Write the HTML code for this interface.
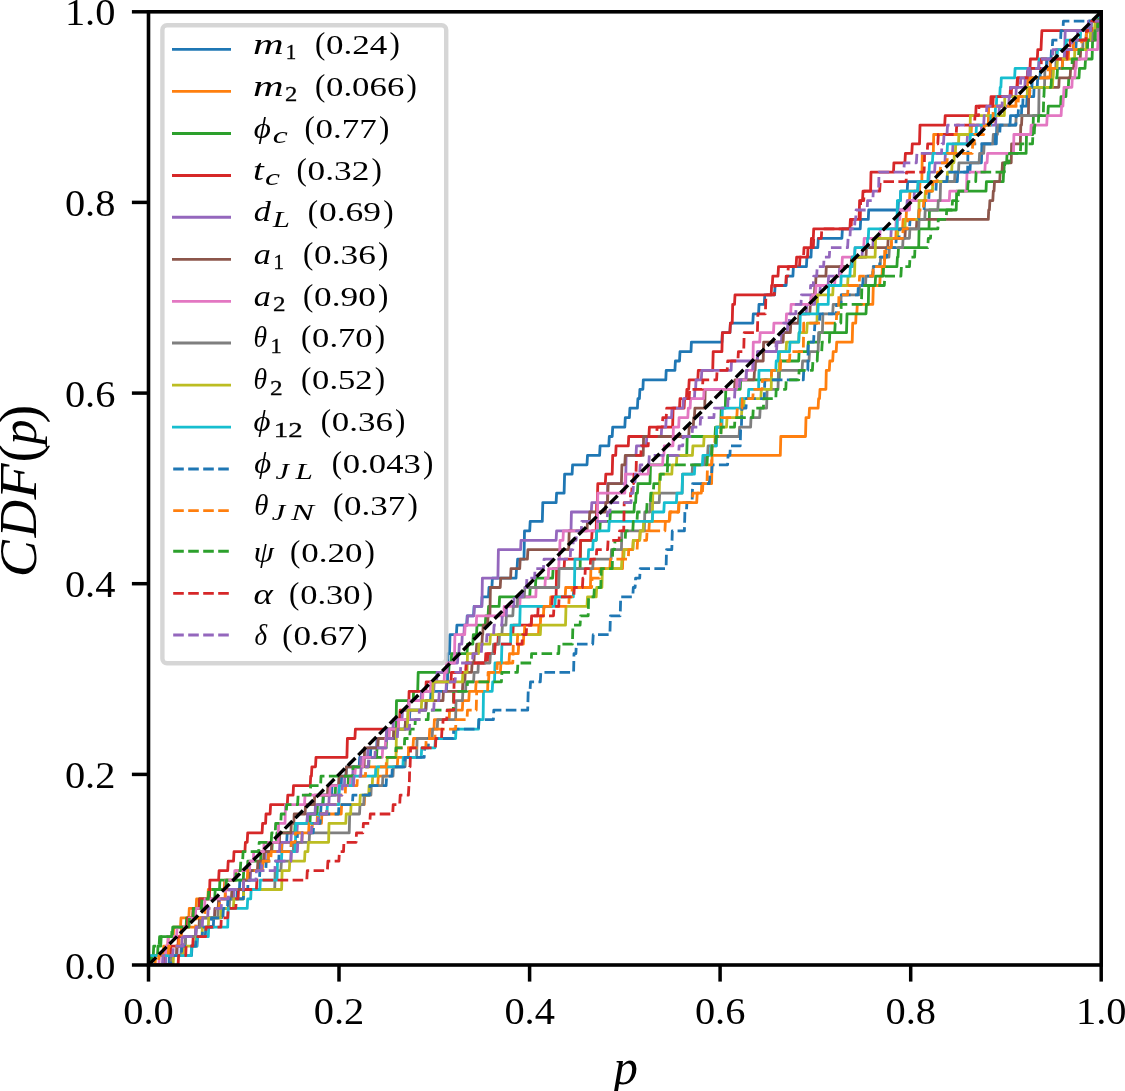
<!DOCTYPE html>
<html lang="en"><head><meta charset="utf-8"><title>P-P plot</title>
<style>html,body{margin:0;padding:0;background:#fff}svg{display:block}text{font-family:"Liberation Serif", serif;fill:#000}</style>
</head><body>
<svg width="1125" height="1091" viewBox="0 0 1125 1091">
<rect x="0" y="0" width="1125" height="1091" fill="#fff"/>
<defs><clipPath id="ax"><rect x="148.5" y="11.8" width="952.7" height="953.2"/></clipPath></defs>
<g clip-path="url(#ax)" fill="none" stroke-linejoin="round" stroke-width="2.8">
<path d="M148.5 965.0 L169.0 965.0 L169.5 955.6 L191.5 955.6 L192.0 946.1 L197.0 946.1 L197.5 936.7 L205.3 936.7 L205.8 927.2 L213.3 927.2 L213.7 917.8 L221.7 917.8 L222.2 908.4 L228.2 908.4 L228.7 898.9 L236.9 898.9 L237.3 889.5 L239.4 889.5 L239.9 880.1 L249.5 880.1 L250.0 870.6 L259.9 870.6 L260.3 861.2 L267.8 861.2 L268.3 851.7 L281.6 851.7 L282.1 842.3 L286.7 842.3 L287.2 832.9 L295.3 832.9 L295.8 823.4 L307.0 823.4 L307.5 814.0 L320.6 814.0 L321.1 804.6 L322.9 804.6 L323.4 795.1 L331.6 795.1 L332.0 785.7 L341.2 785.7 L341.6 776.2 L345.9 776.2 L346.4 766.8 L359.2 766.8 L359.7 757.4 L370.4 757.4 L370.8 747.9 L376.7 747.9 L377.1 738.5 L395.6 738.5 L396.1 729.1 L405.1 729.1 L405.6 719.6 L409.4 719.6 L409.9 710.2 L425.8 710.2 L426.2 700.7 L430.5 700.7 L431.0 691.3 L446.4 691.3 L446.9 681.9 L447.5 681.9 L448.0 653.6 L449.5 653.6 L450.0 634.7 L456.4 634.7 L456.9 625.2 L466.7 625.2 L467.2 615.8 L473.6 615.8 L474.1 606.4 L481.6 606.4 L482.1 596.9 L488.5 596.9 L489.0 587.5 L491.9 587.5 L492.4 578.1 L516.0 578.1 L516.5 568.6 L517.1 568.6 L517.6 559.2 L524.0 559.2 L524.5 530.9 L529.7 530.9 L530.2 521.4 L542.3 521.4 L542.8 502.6 L556.1 502.6 L556.6 493.1 L564.1 493.1 L564.6 474.2 L572.1 474.2 L572.6 464.8 L587.0 464.8 L587.5 455.4 L599.6 455.4 L600.1 445.9 L608.8 445.9 L609.3 436.5 L612.2 436.5 L612.7 427.1 L624.8 427.1 L625.3 417.6 L629.4 417.6 L629.9 408.2 L637.4 408.2 L637.9 398.7 L639.4 398.7 L639.9 389.3 L642.9 389.3 L643.3 379.9 L665.8 379.9 L666.2 370.4 L674.9 370.4 L675.4 361.0 L679.5 361.0 L680.0 351.6 L691.0 351.6 L691.4 342.1 L721.9 342.1 L722.4 332.7 L729.9 332.7 L730.4 323.2 L752.8 323.2 L753.3 313.8 L758.6 313.8 L759.0 304.4 L764.3 304.4 L764.8 294.9 L774.6 294.9 L775.1 285.5 L786.1 285.5 L786.5 276.1 L792.9 276.1 L793.4 266.6 L806.4 266.6 L806.9 257.2 L811.0 257.2 L811.4 247.7 L817.8 247.7 L818.3 238.3 L841.9 238.3 L842.4 228.9 L860.2 228.9 L860.7 219.4 L868.3 219.4 L868.7 210.0 L898.0 210.0 L898.5 200.6 L900.3 200.6 L900.8 191.1 L907.2 191.1 L907.7 181.7 L957.3 181.7 L957.8 172.2 L969.9 172.2 L970.4 162.8 L981.4 162.8 L981.9 143.9 L996.3 143.9 L996.8 125.1 L1010.0 125.1 L1010.5 115.6 L1021.4 115.6 L1021.8 106.2 L1026.6 106.2 L1027.1 96.7 L1033.7 96.7 L1034.1 87.3 L1037.2 87.3 L1037.7 77.9 L1051.3 77.9 L1051.7 68.4 L1062.2 68.4 L1062.7 59.0 L1065.0 59.0 L1065.5 49.6 L1075.8 49.6 L1076.3 40.1 L1086.0 40.1 L1086.5 30.7 L1088.5 30.7 L1089.0 21.2 L1100.3 21.2 L1100.8 11.8" stroke="#1f77b4"/>
<path d="M148.5 965.0 L155.1 965.0 L155.6 955.6 L163.3 955.6 L163.7 946.1 L167.8 946.1 L168.3 936.7 L173.2 936.7 L173.7 927.2 L180.5 927.2 L181.0 917.8 L188.8 917.8 L189.3 908.4 L196.1 908.4 L196.6 898.9 L207.8 898.9 L208.3 889.5 L224.2 889.5 L224.7 880.1 L235.5 880.1 L236.0 870.6 L262.3 870.6 L262.8 861.2 L268.2 861.2 L268.7 851.7 L281.3 851.7 L281.8 842.3 L301.8 842.3 L302.3 832.9 L311.9 832.9 L312.4 823.4 L321.4 823.4 L321.9 814.0 L341.2 814.0 L341.6 804.6 L364.2 804.6 L364.7 795.1 L369.3 795.1 L369.8 785.7 L377.8 785.7 L378.3 776.2 L386.5 776.2 L386.9 766.8 L397.3 766.8 L397.8 757.4 L408.2 757.4 L408.7 747.9 L413.0 747.9 L413.5 738.5 L429.2 738.5 L429.7 729.1 L434.0 729.1 L434.4 719.6 L449.1 719.6 L449.6 710.2 L462.3 710.2 L462.8 700.7 L468.8 700.7 L469.3 691.3 L475.6 691.3 L476.1 681.9 L488.5 681.9 L489.0 672.4 L500.4 672.4 L500.9 663.0 L509.0 663.0 L509.5 653.6 L518.2 653.6 L518.7 644.1 L523.3 644.1 L523.8 634.7 L538.5 634.7 L538.9 625.2 L540.3 625.2 L540.8 615.8 L543.4 615.8 L543.9 606.4 L550.3 606.4 L550.8 596.9 L565.2 596.9 L565.7 587.5 L590.4 587.5 L590.9 568.6 L622.5 568.6 L623.0 549.7 L632.8 549.7 L633.3 540.3 L639.7 540.3 L640.2 530.9 L648.9 530.9 L649.4 521.4 L669.2 521.4 L669.7 512.0 L678.4 512.0 L678.8 502.6 L696.7 502.6 L697.2 493.1 L701.3 493.1 L701.8 483.7 L711.6 483.7 L712.1 455.4 L780.3 455.4 L780.8 436.5 L805.5 436.5 L806.0 417.6 L809.0 417.6 L809.5 408.2 L818.1 408.2 L818.6 398.7 L819.5 398.7 L820.0 389.3 L825.9 389.3 L826.3 370.4 L829.3 370.4 L829.8 361.0 L832.7 361.0 L833.2 351.6 L836.2 351.6 L836.7 342.1 L852.2 342.1 L852.7 323.2 L855.7 323.2 L856.1 313.8 L856.8 313.8 L857.3 304.4 L872.8 304.4 L873.3 285.5 L879.7 285.5 L880.2 276.1 L882.0 276.1 L882.4 266.6 L884.3 266.6 L884.8 257.2 L885.7 257.2 L886.2 247.7 L891.2 247.7 L891.6 238.3 L895.8 238.3 L896.2 228.9 L902.6 228.9 L903.1 219.4 L906.1 219.4 L906.5 210.0 L907.4 210.0 L907.9 200.6 L909.5 200.6 L910.0 191.1 L919.5 191.1 L920.0 181.7 L921.8 181.7 L922.3 153.4 L933.3 153.4 L933.7 134.5 L971.1 134.5 L971.5 125.1 L988.3 125.1 L988.7 106.2 L1015.8 106.2 L1016.2 96.7 L1027.2 96.7 L1027.7 77.9 L1050.1 77.9 L1050.6 59.0 L1067.0 59.0 L1067.5 49.6 L1073.2 49.6 L1073.7 40.1 L1086.0 40.1 L1086.5 30.7 L1091.0 30.7 L1091.5 21.2 L1100.3 21.2 L1100.8 11.8" stroke="#ff7f0e"/>
<path d="M148.5 965.0 L151.7 965.0 L152.2 955.6 L157.5 955.6 L158.0 946.1 L160.7 946.1 L161.2 936.7 L172.3 936.7 L172.7 927.2 L186.1 927.2 L186.6 917.8 L193.4 917.8 L193.9 908.4 L199.0 908.4 L199.5 898.9 L214.7 898.9 L215.2 889.5 L219.5 889.5 L219.9 880.1 L243.3 880.1 L243.7 870.6 L247.3 870.6 L247.8 861.2 L260.6 861.2 L261.0 851.7 L271.8 851.7 L272.3 842.3 L276.4 842.3 L276.9 832.9 L294.7 832.9 L295.2 823.4 L309.9 823.4 L310.4 814.0 L317.0 814.0 L317.5 804.6 L322.8 804.6 L323.3 795.1 L335.2 795.1 L335.6 785.7 L348.0 785.7 L348.5 776.2 L353.6 776.2 L354.1 766.8 L362.9 766.8 L363.3 757.4 L376.5 757.4 L377.0 747.9 L386.1 747.9 L386.6 738.5 L387.7 738.5 L388.2 729.1 L396.0 729.1 L396.5 700.7 L413.2 700.7 L413.6 691.3 L417.7 691.3 L418.2 672.4 L448.7 672.4 L449.2 663.0 L451.1 663.0 L451.6 653.6 L467.0 653.6 L467.5 644.1 L472.8 644.1 L473.3 634.7 L476.5 634.7 L477.0 625.2 L485.3 625.2 L485.8 615.8 L488.1 615.8 L488.6 606.4 L499.1 606.4 L499.6 596.9 L529.7 596.9 L530.2 587.5 L535.4 587.5 L535.9 578.1 L552.6 578.1 L553.1 568.6 L580.1 568.6 L580.6 540.3 L596.2 540.3 L596.7 530.9 L599.8 530.9 L600.3 521.4 L609.9 521.4 L610.4 512.0 L634.0 512.0 L634.5 502.6 L635.6 502.6 L636.1 493.1 L637.4 493.1 L637.9 483.7 L650.0 483.7 L650.5 464.8 L667.2 464.8 L667.7 455.4 L686.7 455.4 L687.2 436.5 L715.0 436.5 L715.5 427.1 L720.8 427.1 L721.2 408.2 L725.3 408.2 L725.8 389.3 L740.2 389.3 L740.7 379.9 L779.2 379.9 L779.7 361.0 L798.7 361.0 L799.1 351.6 L807.8 351.6 L808.3 342.1 L819.0 342.1 L819.5 332.7 L846.5 332.7 L847.0 313.8 L866.0 313.8 L866.4 304.4 L868.3 304.4 L868.7 285.5 L875.1 285.5 L875.6 276.1 L883.2 276.1 L883.6 266.6 L896.9 266.6 L897.4 257.2 L898.0 257.2 L898.5 247.7 L918.7 247.7 L919.1 228.9 L929.0 228.9 L929.5 210.0 L956.2 210.0 L956.7 191.1 L986.0 191.1 L986.4 181.7 L1003.2 181.7 L1003.6 172.2 L1003.9 172.2 L1004.3 162.8 L1006.6 162.8 L1007.1 153.4 L1026.1 153.4 L1026.5 134.5 L1032.9 134.5 L1033.4 115.6 L1047.8 115.6 L1048.3 106.2 L1060.6 106.2 L1061.0 96.7 L1065.9 96.7 L1066.4 87.3 L1068.3 87.3 L1068.8 77.9 L1079.0 77.9 L1079.5 68.4 L1085.0 68.4 L1085.5 59.0 L1092.1 59.0 L1092.6 40.1 L1097.5 40.1 L1098.0 21.2 L1098.7 21.2 L1099.2 11.8 L1100.8 11.8" stroke="#2ca02c"/>
<path d="M148.5 965.0 L163.5 965.0 L164.0 955.6 L170.3 955.6 L170.8 946.1 L178.0 946.1 L178.4 936.7 L181.0 936.7 L181.4 927.2 L187.3 927.2 L187.8 917.8 L192.6 917.8 L193.1 908.4 L199.2 908.4 L199.6 898.9 L209.4 898.9 L209.9 880.1 L218.6 880.1 L219.1 870.6 L227.7 870.6 L228.2 861.2 L233.5 861.2 L234.0 851.7 L244.9 851.7 L245.4 842.3 L247.2 842.3 L247.7 832.9 L262.1 832.9 L262.6 823.4 L265.6 823.4 L266.0 814.0 L270.1 814.0 L270.6 804.6 L287.3 804.6 L287.8 795.1 L293.1 795.1 L293.5 785.7 L310.2 785.7 L310.7 776.2 L311.4 776.2 L311.9 766.8 L315.5 766.8 L316.0 757.4 L346.9 757.4 L347.4 738.5 L354.9 738.5 L355.4 729.1 L398.3 729.1 L398.7 719.6 L399.6 719.6 L400.1 710.2 L408.6 710.2 L409.1 691.3 L425.8 691.3 L426.2 681.9 L451.0 681.9 L451.4 672.4 L465.9 672.4 L466.3 663.0 L485.3 663.0 L485.8 653.6 L494.5 653.6 L495.0 644.1 L497.9 644.1 L498.4 634.7 L512.8 634.7 L513.3 625.2 L531.2 625.2 L531.6 615.8 L537.7 615.8 L538.2 606.4 L551.8 606.4 L552.3 596.9 L556.1 596.9 L556.6 568.6 L564.1 568.6 L564.6 559.2 L580.1 559.2 L580.6 540.3 L591.6 540.3 L592.1 530.9 L596.2 530.9 L596.7 502.6 L597.3 502.6 L597.8 483.7 L605.3 483.7 L605.8 474.2 L612.2 474.2 L612.7 455.4 L615.7 455.4 L616.1 445.9 L628.3 445.9 L628.7 436.5 L648.9 436.5 L649.4 427.1 L672.6 427.1 L673.1 408.2 L684.1 408.2 L684.6 398.7 L686.4 398.7 L686.9 389.3 L688.7 389.3 L689.2 379.9 L697.8 379.9 L698.3 370.4 L712.7 370.4 L713.2 351.6 L721.9 351.6 L722.4 332.7 L729.9 332.7 L730.4 323.2 L732.2 323.2 L732.7 304.4 L734.5 304.4 L735.0 294.9 L771.2 294.9 L771.6 285.5 L772.3 285.5 L772.8 276.1 L778.0 276.1 L778.5 266.6 L796.1 266.6 L796.6 257.2 L807.5 257.2 L808.0 247.7 L811.0 247.7 L811.4 238.3 L813.3 238.3 L813.7 228.9 L849.9 228.9 L850.4 219.4 L859.1 219.4 L859.6 200.6 L862.5 200.6 L863.0 191.1 L870.6 191.1 L871.0 172.2 L893.5 172.2 L893.9 162.8 L904.9 162.8 L905.4 153.4 L911.8 153.4 L912.3 143.9 L919.5 143.9 L920.0 125.1 L944.7 125.1 L945.2 115.6 L975.7 115.6 L976.1 106.2 L990.6 106.2 L991.0 96.7 L1010.0 96.7 L1010.5 87.3 L1016.9 87.3 L1017.4 77.9 L1028.4 77.9 L1028.8 68.4 L1030.0 68.4 L1030.4 59.0 L1037.3 59.0 L1037.8 49.6 L1041.0 49.6 L1041.4 40.1 L1041.9 30.7 L1095.1 30.7 L1095.6 21.2 L1098.1 21.2 L1098.6 11.8 L1100.8 11.8" stroke="#d62728"/>
<path d="M148.5 965.0 L165.5 965.0 L166.0 955.6 L177.0 955.6 L177.4 946.1 L181.6 946.1 L182.1 936.7 L195.6 936.7 L196.1 927.2 L201.7 927.2 L202.2 917.8 L214.5 917.8 L215.0 908.4 L219.1 908.4 L219.6 898.9 L233.5 898.9 L234.0 889.5 L243.3 889.5 L243.7 880.1 L250.2 880.1 L250.7 870.6 L261.5 870.6 L261.9 861.2 L264.8 861.2 L265.3 851.7 L279.5 851.7 L279.9 842.3 L290.9 842.3 L291.3 832.9 L296.9 832.9 L297.4 823.4 L307.1 823.4 L307.6 814.0 L315.0 814.0 L315.5 804.6 L328.8 804.6 L329.3 795.1 L338.5 795.1 L339.0 785.7 L344.4 785.7 L344.8 776.2 L352.7 776.2 L353.2 766.8 L360.4 766.8 L360.9 757.4 L367.5 757.4 L368.0 747.9 L377.1 747.9 L377.5 738.5 L386.1 738.5 L386.6 729.1 L392.9 729.1 L393.4 719.6 L402.0 719.6 L402.5 710.2 L408.5 710.2 L409.0 700.7 L421.0 700.7 L421.5 691.3 L433.7 691.3 L434.2 681.9 L436.6 681.9 L437.1 672.4 L447.1 672.4 L447.6 663.0 L457.5 663.0 L458.0 653.6 L458.9 653.6 L459.3 644.1 L461.8 644.1 L462.3 634.7 L463.9 634.7 L464.4 625.2 L467.0 625.2 L467.5 615.8 L473.9 615.8 L474.4 606.4 L481.9 606.4 L482.4 578.1 L497.9 578.1 L498.4 549.7 L520.6 549.7 L521.0 540.3 L556.1 540.3 L556.6 530.9 L571.0 530.9 L571.4 512.0 L591.3 512.0 L591.8 502.6 L607.3 502.6 L607.8 483.7 L625.7 483.7 L626.1 455.4 L636.0 455.4 L636.5 445.9 L646.3 445.9 L646.8 436.5 L661.2 436.5 L661.7 427.1 L665.8 427.1 L666.2 417.6 L671.5 417.6 L672.0 408.2 L683.0 408.2 L683.4 398.7 L694.4 398.7 L694.9 389.3 L695.6 389.3 L696.0 379.9 L701.3 379.9 L701.8 370.4 L731.1 370.4 L731.5 361.0 L757.4 361.0 L757.8 351.6 L776.5 351.6 L777.0 342.1 L781.4 342.1 L781.9 332.7 L787.3 332.7 L787.8 323.2 L799.3 323.2 L799.8 313.8 L806.2 313.8 L806.7 304.4 L814.6 304.4 L815.1 294.9 L819.8 294.9 L820.3 285.5 L828.1 285.5 L828.6 276.1 L839.2 276.1 L839.7 266.6 L852.7 266.6 L853.2 257.2 L862.0 257.2 L862.5 247.7 L872.8 247.7 L873.3 238.3 L890.8 238.3 L891.3 228.9 L896.9 228.9 L897.4 219.4 L899.0 219.4 L899.5 210.0 L906.7 210.0 L907.2 200.6 L913.9 200.6 L914.4 191.1 L918.0 191.1 L918.5 181.7 L928.9 181.7 L929.4 172.2 L934.6 172.2 L935.1 162.8 L944.9 162.8 L945.4 153.4 L952.5 153.4 L953.0 143.9 L967.0 143.9 L967.5 134.5 L981.2 134.5 L981.7 125.1 L995.6 125.1 L996.0 115.6 L998.9 115.6 L999.4 106.2 L1008.7 106.2 L1009.2 96.7 L1015.9 96.7 L1016.3 87.3 L1024.8 87.3 L1025.3 77.9 L1030.2 77.9 L1030.6 68.4 L1046.8 68.4 L1047.3 59.0 L1064.1 59.0 L1064.6 49.6 L1064.7 49.6 L1065.2 30.7 L1088.0 30.7 L1088.4 21.2 L1098.7 21.2 L1099.2 11.8 L1100.8 11.8" stroke="#9467bd"/>
<path d="M148.5 965.0 L172.3 965.0 L172.7 955.6 L176.4 955.6 L176.8 946.1 L184.9 946.1 L185.4 936.7 L195.6 936.7 L196.1 927.2 L199.0 927.2 L199.5 917.8 L214.6 917.8 L215.1 908.4 L218.2 908.4 L218.6 898.9 L231.4 898.9 L231.9 889.5 L243.3 889.5 L243.7 880.1 L248.8 880.1 L249.3 870.6 L257.4 870.6 L257.9 861.2 L263.6 861.2 L264.0 851.7 L271.3 851.7 L271.8 842.3 L279.4 842.3 L279.8 832.9 L290.9 832.9 L291.3 823.4 L293.8 823.4 L294.2 814.0 L305.1 814.0 L305.5 804.6 L314.3 804.6 L314.7 795.1 L327.4 795.1 L327.9 785.7 L338.5 785.7 L339.0 776.2 L346.0 776.2 L346.4 766.8 L364.1 766.8 L364.6 747.9 L377.8 747.9 L378.3 738.5 L393.3 738.5 L393.7 729.1 L405.1 729.1 L405.6 719.6 L408.0 719.6 L408.4 710.2 L425.8 710.2 L426.2 700.7 L443.0 700.7 L443.4 691.3 L462.4 691.3 L462.9 681.9 L464.8 681.9 L465.2 672.4 L471.6 672.4 L472.1 663.0 L473.9 663.0 L474.3 653.6 L476.2 653.6 L476.7 644.1 L481.9 644.1 L482.4 634.7 L482.7 634.7 L483.2 625.2 L487.6 625.2 L488.1 615.8 L489.9 615.8 L490.4 587.5 L500.2 587.5 L500.7 578.1 L510.6 578.1 L511.0 568.6 L519.7 568.6 L520.2 559.2 L527.4 559.2 L527.9 549.7 L568.7 549.7 L569.2 530.9 L587.0 530.9 L587.5 521.4 L589.3 521.4 L589.8 512.0 L605.3 512.0 L605.8 502.6 L607.6 502.6 L608.1 483.7 L621.4 483.7 L621.9 464.8 L624.8 464.8 L625.3 455.4 L643.2 455.4 L643.6 436.5 L688.7 436.5 L689.2 427.1 L693.3 427.1 L693.7 417.6 L694.4 417.6 L694.9 408.2 L704.7 408.2 L705.2 389.3 L734.5 389.3 L735.0 379.9 L754.0 379.9 L754.5 370.4 L755.1 370.4 L755.6 361.0 L763.2 361.0 L763.6 342.1 L783.1 342.1 L783.5 332.7 L790.3 332.7 L790.8 323.2 L798.4 323.2 L798.9 313.8 L809.8 313.8 L810.3 304.4 L811.0 304.4 L811.4 294.9 L814.4 294.9 L814.9 285.5 L815.6 285.5 L816.0 276.1 L825.9 276.1 L826.3 266.6 L851.1 266.6 L851.5 257.2 L866.0 257.2 L866.4 247.7 L887.7 247.7 L888.2 238.3 L904.9 238.3 L905.4 228.9 L916.4 228.9 L916.9 219.4 L988.3 219.4 L988.7 210.0 L989.4 210.0 L989.9 200.6 L992.8 200.6 L993.3 191.1 L994.0 191.1 L994.5 181.7 L999.7 181.7 L1000.2 172.2 L1002.0 172.2 L1002.5 162.8 L1011.2 162.8 L1011.6 143.9 L1020.3 143.9 L1020.8 125.1 L1021.5 125.1 L1022.0 115.6 L1028.4 115.6 L1028.8 87.3 L1058.8 87.3 L1059.2 77.9 L1070.1 77.9 L1070.6 68.4 L1073.7 68.4 L1074.1 59.0 L1080.2 59.0 L1080.7 49.6 L1086.8 49.6 L1087.2 40.1 L1093.3 40.1 L1093.8 30.7 L1097.5 30.7 L1098.0 21.2 L1098.7 21.2 L1099.2 11.8 L1100.8 11.8" stroke="#8c564b"/>
<path d="M148.5 965.0 L158.9 965.0 L159.4 955.6 L165.6 955.6 L166.0 946.1 L167.8 946.1 L168.3 936.7 L176.6 936.7 L177.1 927.2 L188.8 927.2 L189.3 917.8 L195.3 917.8 L195.8 908.4 L204.5 908.4 L205.0 898.9 L225.5 898.9 L225.9 880.1 L234.3 880.1 L234.8 870.6 L249.5 870.6 L250.0 861.2 L253.3 861.2 L253.7 851.7 L263.7 851.7 L264.1 842.3 L278.2 842.3 L278.6 823.4 L285.0 823.4 L285.5 804.6 L304.5 804.6 L305.0 795.1 L329.7 795.1 L330.2 785.7 L350.3 785.7 L350.8 776.2 L354.9 776.2 L355.4 766.8 L362.9 766.8 L363.4 757.4 L382.2 757.4 L382.7 747.9 L385.2 747.9 L385.7 738.5 L389.1 738.5 L389.6 729.1 L398.3 729.1 L398.7 719.6 L408.6 719.6 L409.1 700.7 L422.5 700.7 L423.0 691.3 L430.3 691.3 L430.8 681.9 L444.1 681.9 L444.6 672.4 L446.0 672.4 L446.5 663.0 L454.4 663.0 L454.9 634.7 L464.7 634.7 L465.2 625.2 L476.2 625.2 L476.7 615.8 L503.7 615.8 L504.2 606.4 L519.7 606.4 L520.2 596.9 L535.8 596.9 L536.2 587.5 L544.9 587.5 L545.4 578.1 L548.2 578.1 L548.7 568.6 L558.7 568.6 L559.1 559.2 L559.5 559.2 L560.0 540.3 L563.0 540.3 L563.4 530.9 L597.3 530.9 L597.8 493.1 L624.8 493.1 L625.3 474.2 L648.2 474.2 L648.7 464.8 L662.6 464.8 L663.1 455.4 L663.8 455.4 L664.3 445.9 L672.9 445.9 L673.4 427.1 L678.7 427.1 L679.1 417.6 L687.8 417.6 L688.3 408.2 L690.1 408.2 L690.6 398.7 L703.6 398.7 L704.1 389.3 L736.4 389.3 L736.9 379.9 L746.0 379.9 L746.4 370.4 L752.8 370.4 L753.3 342.1 L759.7 342.1 L760.2 332.7 L773.5 332.7 L773.9 323.2 L786.1 323.2 L786.5 313.8 L790.7 313.8 L791.1 304.4 L810.6 304.4 L811.1 294.9 L815.6 294.9 L816.0 285.5 L834.6 285.5 L835.1 276.1 L840.8 276.1 L841.2 266.6 L841.9 266.6 L842.4 257.2 L854.6 257.2 L855.1 247.7 L863.7 247.7 L864.2 238.3 L879.7 238.3 L880.2 228.9 L895.8 228.9 L896.2 219.4 L899.8 219.4 L900.3 210.0 L909.5 210.0 L910.0 200.6 L949.3 200.6 L949.8 191.1 L966.5 191.1 L967.0 172.2 L984.8 172.2 L985.3 162.8 L987.1 162.8 L987.6 153.4 L1013.5 153.4 L1013.9 134.5 L1030.7 134.5 L1031.1 125.1 L1046.7 125.1 L1047.2 115.6 L1061.1 115.6 L1061.6 106.2 L1062.9 106.2 L1063.4 96.7 L1063.5 96.7 L1064.0 87.3 L1071.9 87.3 L1072.3 77.9 L1074.9 77.9 L1075.3 68.4 L1076.0 68.4 L1076.5 59.0 L1086.2 59.0 L1086.6 49.6 L1097.5 49.6 L1098.0 40.1 L1098.1 40.1 L1098.6 21.2 L1098.7 21.2 L1099.2 11.8 L1100.8 11.8" stroke="#e377c2"/>
<path d="M148.5 965.0 L170.8 965.0 L171.3 955.6 L180.9 955.6 L181.3 946.1 L185.3 946.1 L185.7 936.7 L195.6 936.7 L196.1 927.2 L200.5 927.2 L200.9 917.8 L217.8 917.8 L218.3 908.4 L229.2 908.4 L229.7 898.9 L243.3 898.9 L243.7 889.5 L274.7 889.5 L275.2 870.6 L280.9 870.6 L281.4 861.2 L290.8 861.2 L291.2 851.7 L293.2 851.7 L293.7 842.3 L309.1 842.3 L309.6 832.9 L349.2 832.9 L349.7 814.0 L359.5 814.0 L360.0 804.6 L363.7 804.6 L364.2 795.1 L370.9 795.1 L371.3 785.7 L382.4 785.7 L382.9 776.2 L393.0 776.2 L393.4 766.8 L405.1 766.8 L405.6 757.4 L416.6 757.4 L417.1 738.5 L432.1 738.5 L432.6 729.1 L437.2 729.1 L437.7 719.6 L455.6 719.6 L456.0 700.7 L462.4 700.7 L462.9 691.3 L465.6 691.3 L466.0 681.9 L473.6 681.9 L474.1 672.4 L478.0 672.4 L478.4 663.0 L489.9 663.0 L490.4 653.6 L493.1 653.6 L493.5 644.1 L499.0 644.1 L499.5 634.7 L501.9 634.7 L502.4 625.2 L505.9 625.2 L506.4 615.8 L512.8 615.8 L513.3 606.4 L517.2 606.4 L517.7 596.9 L524.3 596.9 L524.8 587.5 L558.7 587.5 L559.1 568.6 L592.7 568.6 L593.2 559.2 L611.1 559.2 L611.5 549.7 L621.4 549.7 L621.9 530.9 L644.3 530.9 L644.8 512.0 L650.0 512.0 L650.5 502.6 L659.2 502.6 L659.7 493.1 L682.1 493.1 L682.6 474.2 L692.1 474.2 L692.6 464.8 L704.7 464.8 L705.2 455.4 L707.6 455.4 L708.1 445.9 L716.2 445.9 L716.7 436.5 L739.1 436.5 L739.6 427.1 L750.6 427.1 L751.0 417.6 L759.7 417.6 L760.2 408.2 L766.6 408.2 L767.1 389.3 L778.0 389.3 L778.5 370.4 L802.1 370.4 L802.6 361.0 L809.0 361.0 L809.5 351.6 L818.1 351.6 L818.6 332.7 L822.4 332.7 L822.9 313.8 L832.7 313.8 L833.2 304.4 L840.8 304.4 L841.2 294.9 L859.1 294.9 L859.6 285.5 L865.5 285.5 L866.0 276.1 L872.8 276.1 L873.3 266.6 L880.1 266.6 L880.6 257.2 L888.9 257.2 L889.4 247.7 L902.6 247.7 L903.1 238.3 L909.4 238.3 L909.9 228.9 L918.7 228.9 L919.1 219.4 L924.8 219.4 L925.2 210.0 L937.8 210.0 L938.3 200.6 L940.1 200.6 L940.6 181.7 L954.5 181.7 L955.0 172.2 L958.5 172.2 L958.9 162.8 L979.1 162.8 L979.6 153.4 L983.7 153.4 L984.2 143.9 L992.8 143.9 L993.3 134.5 L997.4 134.5 L997.9 125.1 L1015.8 125.1 L1016.2 115.6 L1038.7 115.6 L1039.1 87.3 L1044.5 87.3 L1044.9 68.4 L1055.8 68.4 L1056.3 49.6 L1082.6 49.6 L1083.1 40.1 L1092.1 40.1 L1092.6 30.7 L1097.5 30.7 L1098.0 21.2 L1098.7 21.2 L1099.2 11.8 L1100.8 11.8" stroke="#7f7f7f"/>
<path d="M148.5 965.0 L173.1 965.0 L173.5 955.6 L183.1 955.6 L183.6 946.1 L195.6 946.1 L196.1 936.7 L201.9 936.7 L202.4 927.2 L208.3 927.2 L208.7 917.8 L220.7 917.8 L221.1 908.4 L233.4 908.4 L233.9 898.9 L243.3 898.9 L243.7 889.5 L281.6 889.5 L282.1 870.6 L289.3 870.6 L289.8 861.2 L304.5 861.2 L305.0 851.7 L307.9 851.7 L308.4 842.3 L328.6 842.3 L329.0 823.4 L345.8 823.4 L346.2 814.0 L350.6 814.0 L351.1 804.6 L359.8 804.6 L360.3 795.1 L368.7 795.1 L369.1 785.7 L372.2 785.7 L372.7 776.2 L377.5 776.2 L378.0 766.8 L386.8 766.8 L387.3 757.4 L396.0 757.4 L396.5 729.1 L407.4 729.1 L407.9 710.2 L421.2 710.2 L421.7 700.7 L432.6 700.7 L433.1 681.9 L462.4 681.9 L462.9 672.4 L467.0 672.4 L467.5 653.6 L478.5 653.6 L478.9 644.1 L489.9 644.1 L490.4 634.7 L540.3 634.7 L540.8 625.2 L565.5 625.2 L566.0 606.4 L587.0 606.4 L587.5 596.9 L596.2 596.9 L596.7 587.5 L601.9 587.5 L602.4 568.6 L621.4 568.6 L621.9 559.2 L623.7 559.2 L624.2 549.7 L632.8 549.7 L633.3 540.3 L639.7 540.3 L640.2 530.9 L643.2 530.9 L643.6 521.4 L652.3 521.4 L652.8 493.1 L659.2 493.1 L659.7 474.2 L671.8 474.2 L672.3 464.8 L676.4 464.8 L676.9 455.4 L692.4 455.4 L692.9 445.9 L703.6 445.9 L704.1 436.5 L716.2 436.5 L716.7 427.1 L726.5 427.1 L727.0 417.6 L741.4 417.6 L741.9 408.2 L743.7 408.2 L744.2 398.7 L760.9 398.7 L761.3 389.3 L771.2 389.3 L771.6 370.4 L779.2 370.4 L779.7 351.6 L786.1 351.6 L786.5 342.1 L798.7 342.1 L799.1 332.7 L806.7 332.7 L807.2 323.2 L817.0 323.2 L817.5 294.9 L832.7 294.9 L833.2 285.5 L847.6 285.5 L848.1 276.1 L854.5 276.1 L855.0 257.2 L875.1 257.2 L875.6 238.3 L897.5 238.3 L898.0 228.9 L904.9 228.9 L905.4 219.4 L918.7 219.4 L919.1 200.6 L924.9 200.6 L925.4 191.1 L932.4 191.1 L932.9 181.7 L947.0 181.7 L947.5 172.2 L951.6 172.2 L952.1 162.8 L953.9 162.8 L954.4 153.4 L955.3 153.4 L955.8 143.9 L958.5 143.9 L958.9 134.5 L969.9 134.5 L970.4 115.6 L1004.3 115.6 L1004.8 96.7 L1027.2 96.7 L1027.7 87.3 L1052.4 87.3 L1052.9 77.9 L1053.1 77.9 L1053.6 68.4 L1057.0 68.4 L1057.5 59.0 L1074.5 59.0 L1074.9 49.6 L1086.0 49.6 L1086.5 40.1 L1090.0 40.1 L1090.5 30.7 L1094.6 30.7 L1095.1 21.2 L1100.3 21.2 L1100.8 11.8" stroke="#bcbd22"/>
<path d="M148.5 965.0 L149.9 965.0 L150.4 955.6 L191.1 955.6 L191.6 946.1 L196.5 946.1 L197.0 936.7 L208.3 936.7 L208.7 927.2 L227.7 927.2 L228.2 908.4 L247.2 908.4 L247.7 898.9 L250.7 898.9 L251.1 889.5 L259.9 889.5 L260.3 880.1 L277.0 880.1 L277.5 861.2 L281.4 861.2 L281.9 851.7 L295.3 851.7 L295.8 823.4 L318.5 823.4 L319.0 814.0 L326.9 814.0 L327.4 804.6 L338.9 804.6 L339.4 785.7 L352.6 785.7 L353.1 776.2 L375.4 776.2 L375.8 766.8 L402.9 766.8 L403.3 757.4 L421.2 757.4 L421.7 747.9 L434.9 747.9 L435.4 738.5 L455.6 738.5 L456.0 729.1 L478.5 729.1 L478.9 719.6 L483.1 719.6 L483.5 691.3 L492.2 691.3 L492.7 681.9 L494.5 681.9 L495.0 663.0 L501.4 663.0 L501.9 644.1 L510.6 644.1 L511.0 625.2 L519.7 625.2 L520.2 606.4 L554.9 606.4 L555.4 596.9 L573.3 596.9 L573.7 587.5 L574.4 587.5 L574.9 559.2 L588.2 559.2 L588.6 549.7 L592.7 549.7 L593.2 540.3 L596.2 540.3 L596.7 530.9 L608.8 530.9 L609.3 521.4 L652.3 521.4 L652.8 512.0 L663.8 512.0 L664.3 502.6 L676.4 502.6 L676.9 493.1 L682.1 493.1 L682.6 474.2 L694.4 474.2 L694.9 464.8 L702.4 464.8 L702.9 455.4 L710.4 455.4 L710.9 445.9 L716.2 445.9 L716.7 427.1 L721.9 427.1 L722.4 408.2 L740.2 408.2 L740.7 398.7 L748.3 398.7 L748.7 389.3 L758.6 389.3 L759.0 370.4 L775.8 370.4 L776.2 361.0 L778.0 361.0 L778.5 351.6 L789.5 351.6 L790.0 342.1 L798.7 342.1 L799.1 332.7 L799.8 332.7 L800.3 313.8 L817.8 313.8 L818.3 304.4 L828.2 304.4 L828.6 285.5 L840.8 285.5 L841.2 276.1 L849.9 276.1 L850.4 266.6 L851.8 266.6 L852.3 257.2 L854.5 257.2 L855.0 247.7 L867.1 247.7 L867.6 238.3 L868.3 238.3 L868.7 228.9 L896.9 228.9 L897.4 200.6 L900.3 200.6 L900.8 191.1 L917.5 191.1 L918.0 181.7 L927.8 181.7 L928.3 172.2 L929.0 172.2 L929.5 162.8 L932.4 162.8 L932.9 153.4 L947.0 153.4 L947.5 143.9 L969.9 143.9 L970.4 134.5 L976.0 134.5 L976.5 125.1 L990.6 125.1 L991.0 115.6 L995.1 115.6 L995.6 106.2 L996.3 106.2 L996.8 96.7 L999.7 96.7 L1000.2 87.3 L1000.9 87.3 L1001.3 77.9 L1014.6 77.9 L1015.1 68.4 L1038.7 68.4 L1039.1 59.0 L1057.0 59.0 L1057.5 49.6 L1065.9 49.6 L1066.4 40.1 L1080.2 40.1 L1080.7 30.7 L1090.9 30.7 L1091.4 21.2 L1098.7 21.2 L1099.2 11.8 L1100.8 11.8" stroke="#17becf"/>
<path d="M148.5 965.0 L170.7 965.0 L171.1 955.6 L181.4 955.6 L181.9 946.1 L195.6 946.1 L196.1 936.7 L202.2 936.7 L202.7 927.2 L211.0 927.2 L211.5 917.8 L222.9 917.8 L223.4 908.4 L227.5 908.4 L227.9 898.9 L243.3 898.9 L243.7 889.5 L247.7 889.5 L248.1 880.1 L259.4 880.1 L259.9 870.6 L265.8 870.6 L266.2 861.2 L278.7 861.2 L279.2 851.7 L290.9 851.7 L291.3 842.3 L297.1 842.3 L297.5 832.9 L313.2 832.9 L313.7 823.4 L320.1 823.4 L320.6 814.0 L338.5 814.0 L339.0 804.6 L352.4 804.6 L352.9 795.1 L369.4 795.1 L369.9 785.7 L386.1 785.7 L386.6 776.2 L391.9 776.2 L392.4 766.8 L404.4 766.8 L404.9 757.4 L424.2 757.4 L424.7 747.9 L428.2 747.9 L428.6 738.5 L453.3 738.5 L453.7 729.1 L478.5 729.1 L478.9 719.6 L493.4 719.6 L493.8 710.2 L527.7 710.2 L528.2 691.3 L530.0 691.3 L530.5 681.9 L540.3 681.9 L540.8 672.4 L573.6 672.4 L574.0 653.6 L575.9 653.6 L576.3 644.1 L592.7 644.1 L593.2 634.7 L609.9 634.7 L610.4 615.8 L620.2 615.8 L620.7 596.9 L632.8 596.9 L633.3 587.5 L635.1 587.5 L635.6 578.1 L639.7 578.1 L640.2 568.6 L666.1 568.6 L666.5 549.7 L671.8 549.7 L672.3 530.9 L684.4 530.9 L684.9 512.0 L686.4 512.0 L686.9 502.6 L692.1 502.6 L692.6 483.7 L709.3 483.7 L709.8 474.2 L711.6 474.2 L712.1 464.8 L727.6 464.8 L728.1 455.4 L729.9 455.4 L730.4 445.9 L740.2 445.9 L740.7 427.1 L741.4 427.1 L741.9 408.2 L746.0 408.2 L746.4 398.7 L764.3 398.7 L764.8 379.9 L803.3 379.9 L803.7 370.4 L807.8 370.4 L808.3 342.1 L813.6 342.1 L814.0 332.7 L814.4 332.7 L814.9 323.2 L819.4 323.2 L819.9 313.8 L836.2 313.8 L836.7 304.4 L841.0 304.4 L841.4 294.9 L857.9 294.9 L858.4 285.5 L862.7 285.5 L863.2 276.1 L872.8 276.1 L873.3 266.6 L879.6 266.6 L880.1 257.2 L886.6 257.2 L887.1 247.7 L895.8 247.7 L896.2 238.3 L899.0 238.3 L899.5 228.9 L909.5 228.9 L910.0 219.4 L918.7 219.4 L919.1 210.0 L924.1 210.0 L924.6 200.6 L928.7 200.6 L929.2 191.1 L935.9 191.1 L936.4 181.7 L947.0 181.7 L947.5 172.2 L967.6 172.2 L968.1 143.9 L995.1 143.9 L995.6 134.5 L999.7 134.5 L1000.2 125.1 L1015.8 125.1 L1016.2 115.6 L1018.1 115.6 L1018.6 106.2 L1022.7 106.2 L1023.1 96.7 L1029.5 96.7 L1030.0 87.3 L1031.9 87.3 L1032.3 77.9 L1040.0 77.9 L1040.5 68.4 L1046.3 68.4 L1046.7 59.0 L1051.0 59.0 L1051.5 49.6 L1052.2 49.6 L1052.7 40.1 L1060.6 40.1 L1061.0 30.7 L1062.9 30.7 L1063.4 21.2 L1098.7 21.2 L1099.2 11.8 L1100.8 11.8" stroke="#1f77b4" stroke-dasharray="10.6 4.4"/>
<path d="M148.5 965.0 L158.4 965.0 L158.8 955.6 L168.2 955.6 L168.7 946.1 L178.7 946.1 L179.2 936.7 L181.2 936.7 L181.7 927.2 L195.6 927.2 L196.1 917.8 L204.7 917.8 L205.2 908.4 L219.2 908.4 L219.7 898.9 L225.0 898.9 L225.4 889.5 L243.3 889.5 L243.7 880.1 L247.2 880.1 L247.7 870.6 L262.6 870.6 L263.1 861.2 L270.7 861.2 L271.2 851.7 L290.9 851.7 L291.3 842.3 L295.1 842.3 L295.5 832.9 L308.6 832.9 L309.1 823.4 L317.0 823.4 L317.5 814.0 L326.8 814.0 L327.3 804.6 L338.5 804.6 L339.0 795.1 L345.2 795.1 L345.6 785.7 L357.0 785.7 L357.5 776.2 L365.4 776.2 L365.9 766.8 L386.1 766.8 L386.6 757.4 L396.1 757.4 L396.6 747.9 L425.8 747.9 L426.2 738.5 L434.9 738.5 L435.4 729.1 L455.6 729.1 L456.0 719.6 L467.0 719.6 L467.5 710.2 L476.2 710.2 L476.7 691.3 L487.6 691.3 L488.1 672.4 L496.8 672.4 L497.3 663.0 L512.8 663.0 L513.3 644.1 L517.2 644.1 L517.7 634.7 L524.3 634.7 L524.8 625.2 L540.3 625.2 L540.8 615.8 L543.5 615.8 L544.0 606.4 L568.7 606.4 L569.2 596.9 L571.8 596.9 L572.3 587.5 L591.6 587.5 L592.1 578.1 L599.5 578.1 L600.0 568.6 L609.9 568.6 L610.4 559.2 L628.3 559.2 L628.7 549.7 L637.1 549.7 L637.6 540.3 L646.6 540.3 L647.1 530.9 L664.9 530.9 L665.4 521.4 L669.7 521.4 L670.2 512.0 L678.7 512.0 L679.1 502.6 L692.4 502.6 L692.9 493.1 L702.4 493.1 L702.9 483.7 L707.0 483.7 L707.5 464.8 L711.6 464.8 L712.1 445.9 L714.7 445.9 L715.2 436.5 L720.8 436.5 L721.2 417.6 L736.8 417.6 L737.3 408.2 L741.9 408.2 L742.3 398.7 L752.8 398.7 L753.3 389.3 L762.0 389.3 L762.4 379.9 L771.2 379.9 L771.6 370.4 L780.3 370.4 L780.7 361.0 L789.5 361.0 L790.0 351.6 L803.3 351.6 L803.7 323.2 L836.2 323.2 L836.7 313.8 L838.5 313.8 L838.9 294.9 L847.6 294.9 L848.1 285.5 L859.1 285.5 L859.6 276.1 L872.8 276.1 L873.3 266.6 L884.3 266.6 L884.8 247.7 L891.2 247.7 L891.6 238.3 L902.6 238.3 L903.1 228.9 L907.2 228.9 L907.7 219.4 L918.7 219.4 L919.1 210.0 L923.3 210.0 L923.7 200.6 L925.9 200.6 L926.4 191.1 L932.4 191.1 L932.9 181.7 L937.0 181.7 L937.5 172.2 L940.2 172.2 L940.7 162.8 L947.0 162.8 L947.5 153.4 L972.2 153.4 L972.7 143.9 L974.2 143.9 L974.7 134.5 L983.7 134.5 L984.2 125.1 L992.8 125.1 L993.3 106.2 L1018.0 106.2 L1018.5 96.7 L1029.5 96.7 L1030.0 77.9 L1047.8 77.9 L1048.3 68.4 L1062.2 68.4 L1062.7 59.0 L1068.3 59.0 L1068.8 49.6 L1081.3 49.6 L1081.8 40.1 L1087.0 40.1 L1087.5 30.7 L1091.8 30.7 L1092.3 21.2 L1100.3 21.2 L1100.8 11.8" stroke="#ff7f0e" stroke-dasharray="10.6 4.4"/>
<path d="M148.5 965.0 L151.0 965.0 L151.5 955.6 L153.3 955.6 L153.7 946.1 L159.1 946.1 L159.6 936.7 L171.6 936.7 L172.1 927.2 L188.9 927.2 L189.4 917.8 L193.0 917.8 L193.4 908.4 L201.4 908.4 L201.9 898.9 L208.3 898.9 L208.7 889.5 L225.9 889.5 L226.4 880.1 L235.8 880.1 L236.2 870.6 L240.3 870.6 L240.8 861.2 L242.6 861.2 L243.1 851.7 L258.7 851.7 L259.2 842.3 L271.2 842.3 L271.7 832.9 L275.2 832.9 L275.7 823.4 L280.8 823.4 L281.2 814.0 L286.2 814.0 L286.7 804.6 L297.6 804.6 L298.1 795.1 L310.2 795.1 L310.7 785.7 L320.6 785.7 L321.0 776.2 L352.6 776.2 L353.1 766.8 L368.7 766.8 L369.1 757.4 L395.5 757.4 L396.0 747.9 L404.3 747.9 L404.7 738.5 L409.7 738.5 L410.2 729.1 L414.9 729.1 L415.3 719.6 L428.1 719.6 L428.5 710.2 L453.3 710.2 L453.7 691.3 L467.0 691.3 L467.5 681.9 L501.4 681.9 L501.9 672.4 L517.4 672.4 L517.9 663.0 L531.2 663.0 L531.6 653.6 L558.7 653.6 L559.1 644.1 L572.4 644.1 L572.9 625.2 L580.1 625.2 L580.6 615.8 L588.2 615.8 L588.6 596.9 L593.9 596.9 L594.4 587.5 L600.8 587.5 L601.2 568.6 L612.2 568.6 L612.7 549.7 L614.5 549.7 L615.0 540.3 L625.2 540.3 L625.6 530.9 L632.8 530.9 L633.3 521.4 L637.0 521.4 L637.5 512.0 L646.6 512.0 L647.1 502.6 L650.3 502.6 L650.8 493.1 L653.3 493.1 L653.8 483.7 L660.0 483.7 L660.5 474.2 L667.2 474.2 L667.7 464.8 L707.0 464.8 L707.5 455.4 L711.6 455.4 L712.1 445.9 L715.5 445.9 L715.9 436.5 L720.8 436.5 L721.2 427.1 L734.5 427.1 L735.0 417.6 L752.8 417.6 L753.3 408.2 L763.4 408.2 L763.8 398.7 L775.8 398.7 L776.2 389.3 L785.8 389.3 L786.2 379.9 L798.7 379.9 L799.1 370.4 L812.4 370.4 L812.9 361.0 L817.2 361.0 L817.6 351.6 L821.7 351.6 L822.2 342.1 L829.4 342.1 L829.8 332.7 L834.7 332.7 L835.2 323.2 L840.8 323.2 L841.2 304.4 L861.4 304.4 L861.9 285.5 L884.3 285.5 L884.8 276.1 L900.9 276.1 L901.4 266.6 L909.5 266.6 L910.0 257.2 L914.6 257.2 L915.0 247.7 L927.8 247.7 L928.3 238.3 L930.5 238.3 L931.0 228.9 L937.9 228.9 L938.3 219.4 L946.2 219.4 L946.7 210.0 L952.0 210.0 L952.5 200.6 L958.1 200.6 L958.6 191.1 L967.6 191.1 L968.1 181.7 L975.7 181.7 L976.1 172.2 L1004.3 172.2 L1004.8 162.8 L1009.0 162.8 L1009.4 153.4 L1020.3 153.4 L1020.8 143.9 L1032.5 143.9 L1032.9 134.5 L1034.2 134.5 L1034.7 125.1 L1038.2 125.1 L1038.7 115.6 L1043.3 115.6 L1043.7 96.7 L1043.9 96.7 L1044.3 87.3 L1051.0 87.3 L1051.5 77.9 L1057.0 77.9 L1057.5 68.4 L1071.9 68.4 L1072.3 59.0 L1078.4 59.0 L1078.9 49.6 L1087.4 49.6 L1087.8 40.1 L1094.5 40.1 L1095.0 30.7 L1097.5 30.7 L1098.0 21.2 L1098.7 21.2 L1099.2 11.8 L1100.8 11.8" stroke="#2ca02c" stroke-dasharray="10.6 4.4"/>
<path d="M148.5 965.0 L178.1 965.0 L178.6 955.6 L185.7 955.6 L186.1 946.1 L192.7 946.1 L193.2 936.7 L205.6 936.7 L206.1 927.2 L220.9 927.2 L221.3 917.8 L227.7 917.8 L228.2 908.4 L235.8 908.4 L236.2 898.9 L238.1 898.9 L238.5 889.5 L256.4 889.5 L256.9 880.1 L306.8 880.1 L307.3 870.6 L327.4 870.6 L327.9 861.2 L338.9 861.2 L339.4 851.7 L343.5 851.7 L343.9 842.3 L356.1 842.3 L356.5 832.9 L362.9 832.9 L363.4 823.4 L369.8 823.4 L370.3 814.0 L392.7 814.0 L393.2 804.6 L399.7 804.6 L400.2 795.1 L408.4 795.1 L408.9 785.7 L409.3 785.7 L409.7 766.8 L410.1 766.8 L410.6 747.9 L435.4 747.9 L435.9 738.5 L441.5 738.5 L442.0 729.1 L442.6 729.1 L443.1 719.6 L446.7 719.6 L447.2 710.2 L453.7 710.2 L454.2 672.4 L465.9 672.4 L466.3 663.0 L487.3 663.0 L487.8 653.6 L494.5 653.6 L495.0 644.1 L522.0 644.1 L522.5 634.7 L526.2 634.7 L526.7 625.2 L531.2 625.2 L531.6 615.8 L553.5 615.8 L554.0 606.4 L558.7 606.4 L559.1 596.9 L573.8 596.9 L574.3 587.5 L582.4 587.5 L582.9 578.1 L584.9 578.1 L585.3 568.6 L590.1 568.6 L590.6 559.2 L596.2 559.2 L596.7 549.7 L607.6 549.7 L608.1 540.3 L619.1 540.3 L619.6 530.9 L623.7 530.9 L624.2 502.6 L630.2 502.6 L630.7 493.1 L631.7 493.1 L632.2 483.7 L633.6 483.7 L634.1 474.2 L636.0 474.2 L636.5 455.4 L640.8 455.4 L641.3 445.9 L648.2 445.9 L648.6 436.5 L656.6 436.5 L657.1 427.1 L662.3 427.1 L662.8 417.6 L666.2 417.6 L666.7 408.2 L679.5 408.2 L680.0 398.7 L689.1 398.7 L689.6 389.3 L702.4 389.3 L702.9 379.9 L716.6 379.9 L717.1 370.4 L727.2 370.4 L727.7 361.0 L737.9 361.0 L738.4 351.6 L743.7 351.6 L744.2 332.7 L757.4 332.7 L757.9 313.8 L765.4 313.8 L765.9 294.9 L774.3 294.9 L774.8 285.5 L785.8 285.5 L786.2 276.1 L787.8 276.1 L788.3 266.6 L799.5 266.6 L800.0 257.2 L803.5 257.2 L804.0 247.7 L813.3 247.7 L813.7 238.3 L821.3 238.3 L821.8 228.9 L851.1 228.9 L851.5 219.4 L860.2 219.4 L860.7 200.6 L863.7 200.6 L864.2 191.1 L879.7 191.1 L880.2 181.7 L906.1 181.7 L906.5 172.2 L924.1 172.2 L924.6 153.4 L927.2 153.4 L927.7 143.9 L937.8 143.9 L938.3 134.5 L956.2 134.5 L956.7 125.1 L974.5 125.1 L975.0 115.6 L978.5 115.6 L979.0 106.2 L992.8 106.2 L993.3 96.7 L1011.2 96.7 L1011.6 87.3 L1017.2 87.3 L1017.7 77.9 L1027.2 77.9 L1027.7 68.4 L1041.0 68.4 L1041.4 59.0 L1067.0 59.0 L1067.5 49.6 L1069.8 49.6 L1070.3 40.1 L1086.0 40.1 L1086.5 30.7 L1091.2 30.7 L1091.6 21.2 L1100.3 21.2 L1100.8 11.8" stroke="#d62728" stroke-dasharray="10.6 4.4"/>
<path d="M148.5 965.0 L162.4 965.0 L162.9 955.6 L172.8 955.6 L173.3 946.1 L183.2 946.1 L183.7 936.7 L195.6 936.7 L196.1 927.2 L202.2 927.2 L202.7 917.8 L207.7 917.8 L208.2 908.4 L221.2 908.4 L221.7 898.9 L228.3 898.9 L228.8 889.5 L243.3 889.5 L243.7 880.1 L256.0 880.1 L256.4 870.6 L274.9 870.6 L275.4 861.2 L290.9 861.2 L291.3 851.7 L297.4 851.7 L297.8 842.3 L301.8 842.3 L302.2 832.9 L311.4 832.9 L311.9 823.4 L318.0 823.4 L318.4 814.0 L326.6 814.0 L327.0 804.6 L338.5 804.6 L339.0 795.1 L342.0 795.1 L342.5 785.7 L353.5 785.7 L354.0 776.2 L360.7 776.2 L361.1 766.8 L368.2 766.8 L368.7 757.4 L374.9 757.4 L375.4 747.9 L386.1 747.9 L386.6 738.5 L397.3 738.5 L397.8 729.1 L409.4 729.1 L409.8 719.6 L418.9 719.6 L419.4 710.2 L433.7 710.2 L434.2 700.7 L438.8 700.7 L439.3 691.3 L446.0 691.3 L446.4 681.9 L455.1 681.9 L455.6 672.4 L460.4 672.4 L460.9 663.0 L472.5 663.0 L472.9 653.6 L481.3 653.6 L481.8 644.1 L486.4 644.1 L486.9 634.7 L493.6 634.7 L494.1 625.2 L501.8 625.2 L502.3 615.8 L506.3 615.8 L506.7 606.4 L513.7 606.4 L514.1 596.9 L522.6 596.9 L523.1 587.5 L526.4 587.5 L526.9 578.1 L534.6 578.1 L535.1 568.6 L543.5 568.6 L544.0 559.2 L570.2 559.2 L570.6 549.7 L572.8 549.7 L573.3 540.3 L576.1 540.3 L576.6 530.9 L581.3 530.9 L581.8 521.4 L607.1 521.4 L607.6 512.0 L609.9 512.0 L610.4 502.6 L631.0 502.6 L631.4 493.1 L633.0 493.1 L633.4 483.7 L634.9 483.7 L635.4 474.2 L639.7 474.2 L640.2 464.8 L648.8 464.8 L649.3 455.4 L678.7 455.4 L679.1 445.9 L682.7 445.9 L683.2 436.5 L692.0 436.5 L692.5 427.1 L700.1 427.1 L700.6 417.6 L713.9 417.6 L714.4 408.2 L727.6 408.2 L728.1 398.7 L734.5 398.7 L735.0 389.3 L739.3 389.3 L739.8 379.9 L746.0 379.9 L746.5 370.4 L752.8 370.4 L753.3 361.0 L757.1 361.0 L757.6 351.6 L775.8 351.6 L776.2 342.1 L780.6 342.1 L781.0 332.7 L783.1 332.7 L783.5 323.2 L789.3 323.2 L789.7 313.8 L795.8 313.8 L796.2 304.4 L801.0 304.4 L801.4 294.9 L810.1 294.9 L810.6 285.5 L813.3 285.5 L813.7 276.1 L816.7 276.1 L817.2 266.6 L823.6 266.6 L824.1 257.2 L829.3 257.2 L829.8 247.7 L847.6 247.7 L848.1 238.3 L849.9 238.3 L850.4 228.9 L854.5 228.9 L855.0 219.4 L855.7 219.4 L856.1 210.0 L867.1 210.0 L867.6 200.6 L872.8 200.6 L873.3 191.1 L878.6 191.1 L879.0 172.2 L903.8 172.2 L904.3 162.8 L916.4 162.8 L916.9 153.4 L941.5 153.4 L942.0 143.9 L943.5 143.9 L944.0 134.5 L947.0 134.5 L947.5 125.1 L983.7 125.1 L984.2 115.6 L986.4 115.6 L986.8 106.2 L1002.0 106.2 L1002.5 96.7 L1010.1 96.7 L1010.6 87.3 L1020.3 87.3 L1020.8 77.9 L1027.5 77.9 L1028.0 68.4 L1038.7 68.4 L1039.1 59.0 L1052.4 59.0 L1052.9 49.6 L1071.8 49.6 L1072.2 40.1 L1077.2 40.1 L1077.6 30.7 L1090.8 30.7 L1091.3 21.2 L1100.3 21.2 L1100.8 11.8" stroke="#9467bd" stroke-dasharray="10.6 4.4"/>
<path d="M148.5 965.0 L1101.2 11.8" stroke="#000" stroke-width="3.4" stroke-dasharray="10.75 4.087"/>
</g>
<rect x="162.4" y="25.3" width="283.8" height="638.0" rx="4.5" ry="4.5" fill="#fff" fill-opacity="0.8" stroke="#ccc" stroke-opacity="0.8" stroke-width="4.4"/>
<path d="M172.0 49.4 H231.0" stroke="#1f77b4" stroke-width="2.9" fill="none"/>
<text><tspan x="252.9" y="53.5" font-size="29.5" font-style="italic" textLength="30.7" lengthAdjust="spacingAndGlyphs">m</tspan><tspan x="285.8" y="59.0" font-size="22" textLength="10.5" lengthAdjust="spacingAndGlyphs" stroke="#000" stroke-width="0.35">1</tspan><tspan font-size="1"> </tspan><tspan x="314.9" y="53.7" font-size="31">(</tspan><tspan x="326.0" y="53.5" font-size="28" textLength="61.3" lengthAdjust="spacingAndGlyphs">0.24</tspan><tspan x="389.5" y="53.7" font-size="31">)</tspan></text>
<path d="M172.0 91.4 H231.0" stroke="#ff7f0e" stroke-width="2.9" fill="none"/>
<text><tspan x="252.9" y="95.5" font-size="29.5" font-style="italic" textLength="30.7" lengthAdjust="spacingAndGlyphs">m</tspan><tspan x="285.0" y="101.0" font-size="22" textLength="12.3" lengthAdjust="spacingAndGlyphs" stroke="#000" stroke-width="0.35">2</tspan><tspan font-size="1"> </tspan><tspan x="314.9" y="95.7" font-size="31">(</tspan><tspan x="326.0" y="95.5" font-size="28" textLength="78.3" lengthAdjust="spacingAndGlyphs">0.066</tspan><tspan x="406.5" y="95.7" font-size="31">)</tspan></text>
<path d="M172.0 133.5 H231.0" stroke="#2ca02c" stroke-width="2.9" fill="none"/>
<text><tspan x="253.7" y="137.6" font-size="29.5" font-style="italic" textLength="17.1" lengthAdjust="spacingAndGlyphs">ϕ</tspan><tspan x="272.8" y="143.1" font-size="23.5" font-style="italic" textLength="15.0" lengthAdjust="spacingAndGlyphs">c</tspan><tspan font-size="1"> </tspan><tspan x="304.4" y="137.8" font-size="31">(</tspan><tspan x="315.5" y="137.6" font-size="28" textLength="61.2" lengthAdjust="spacingAndGlyphs">0.77</tspan><tspan x="378.9" y="137.8" font-size="31">)</tspan></text>
<path d="M172.0 175.5 H231.0" stroke="#d62728" stroke-width="2.9" fill="none"/>
<text><tspan x="252.9" y="179.6" font-size="29.5" font-style="italic" textLength="10.8" lengthAdjust="spacingAndGlyphs">t</tspan><tspan x="265.0" y="185.1" font-size="23.5" font-style="italic" textLength="15.0" lengthAdjust="spacingAndGlyphs">c</tspan><tspan font-size="1"> </tspan><tspan x="296.4" y="179.8" font-size="31">(</tspan><tspan x="307.5" y="179.6" font-size="28" textLength="61.8" lengthAdjust="spacingAndGlyphs">0.32</tspan><tspan x="371.5" y="179.8" font-size="31">)</tspan></text>
<path d="M172.0 217.3 H231.0" stroke="#9467bd" stroke-width="2.9" fill="none"/>
<text><tspan x="253.7" y="221.4" font-size="29.5" font-style="italic" textLength="17.1" lengthAdjust="spacingAndGlyphs">d</tspan><tspan x="272.8" y="226.9" font-size="23.5" font-style="italic" textLength="17.2" lengthAdjust="spacingAndGlyphs">L</tspan><tspan font-size="1"> </tspan><tspan x="307.8" y="221.6" font-size="31">(</tspan><tspan x="318.9" y="221.4" font-size="28" textLength="62.1" lengthAdjust="spacingAndGlyphs">0.69</tspan><tspan x="383.2" y="221.6" font-size="31">)</tspan></text>
<path d="M172.0 259.4 H231.0" stroke="#8c564b" stroke-width="2.9" fill="none"/>
<text><tspan x="253.7" y="263.5" font-size="29.5" font-style="italic" textLength="17.1" lengthAdjust="spacingAndGlyphs">a</tspan><tspan x="273.6" y="269.0" font-size="22" textLength="10.4" lengthAdjust="spacingAndGlyphs" stroke="#000" stroke-width="0.35">1</tspan><tspan font-size="1"> </tspan><tspan x="303.0" y="263.7" font-size="31">(</tspan><tspan x="314.1" y="263.5" font-size="28" textLength="61.8" lengthAdjust="spacingAndGlyphs">0.36</tspan><tspan x="378.1" y="263.7" font-size="31">)</tspan></text>
<path d="M172.0 301.4 H231.0" stroke="#e377c2" stroke-width="2.9" fill="none"/>
<text><tspan x="253.7" y="305.5" font-size="29.5" font-style="italic" textLength="17.1" lengthAdjust="spacingAndGlyphs">a</tspan><tspan x="273.0" y="311.0" font-size="22" textLength="12.5" lengthAdjust="spacingAndGlyphs" stroke="#000" stroke-width="0.35">2</tspan><tspan font-size="1"> </tspan><tspan x="303.0" y="305.7" font-size="31">(</tspan><tspan x="314.1" y="305.5" font-size="28" textLength="61.8" lengthAdjust="spacingAndGlyphs">0.90</tspan><tspan x="378.1" y="305.7" font-size="31">)</tspan></text>
<path d="M172.0 343.0 H231.0" stroke="#7f7f7f" stroke-width="2.9" fill="none"/>
<text><tspan x="253.4" y="347.1" font-size="29.5" font-style="italic" textLength="13.6" lengthAdjust="spacingAndGlyphs">θ</tspan><tspan x="270.4" y="352.6" font-size="22" textLength="11.2" lengthAdjust="spacingAndGlyphs" stroke="#000" stroke-width="0.35">1</tspan><tspan font-size="1"> </tspan><tspan x="301.0" y="347.3" font-size="31">(</tspan><tspan x="312.1" y="347.1" font-size="28" textLength="60.5" lengthAdjust="spacingAndGlyphs">0.70</tspan><tspan x="374.8" y="347.3" font-size="31">)</tspan></text>
<path d="M172.0 385.1 H231.0" stroke="#bcbd22" stroke-width="2.9" fill="none"/>
<text><tspan x="253.4" y="389.2" font-size="29.5" font-style="italic" textLength="13.6" lengthAdjust="spacingAndGlyphs">θ</tspan><tspan x="270.0" y="394.7" font-size="22" textLength="12.6" lengthAdjust="spacingAndGlyphs" stroke="#000" stroke-width="0.35">2</tspan><tspan font-size="1"> </tspan><tspan x="301.0" y="389.4" font-size="31">(</tspan><tspan x="312.1" y="389.2" font-size="28" textLength="60.5" lengthAdjust="spacingAndGlyphs">0.52</tspan><tspan x="374.8" y="389.4" font-size="31">)</tspan></text>
<path d="M172.0 427.1 H231.0" stroke="#17becf" stroke-width="2.9" fill="none"/>
<text><tspan x="253.4" y="431.2" font-size="29.5" font-style="italic" textLength="17.0" lengthAdjust="spacingAndGlyphs">ϕ</tspan><tspan x="273.8" y="436.7" font-size="22" textLength="28.8" lengthAdjust="spacingAndGlyphs" stroke="#000" stroke-width="0.35">12</tspan><tspan font-size="1"> </tspan><tspan x="320.7" y="431.4" font-size="31">(</tspan><tspan x="331.8" y="431.2" font-size="28" textLength="61.1" lengthAdjust="spacingAndGlyphs">0.36</tspan><tspan x="395.1" y="431.4" font-size="31">)</tspan></text>
<path d="M173.2 469.0 H231.0" stroke="#1f77b4" stroke-width="2.9" fill="none" stroke-dasharray="10.6 4.4"/>
<text><tspan x="254.2" y="473.1" font-size="29.5" font-style="italic" textLength="16.9" lengthAdjust="spacingAndGlyphs">ϕ</tspan><tspan x="275.6" y="478.6" font-size="23.5" font-style="italic" textLength="13.5" lengthAdjust="spacingAndGlyphs">J</tspan><tspan x="295.5" y="478.6" font-size="23.5" font-style="italic" textLength="17.4" lengthAdjust="spacingAndGlyphs">L</tspan><tspan font-size="1"> </tspan><tspan x="331.7" y="473.3" font-size="31">(</tspan><tspan x="342.8" y="473.1" font-size="28" textLength="78.0" lengthAdjust="spacingAndGlyphs">0.043</tspan><tspan x="423.0" y="473.3" font-size="31">)</tspan></text>
<path d="M173.2 510.6 H231.0" stroke="#ff7f0e" stroke-width="2.9" fill="none" stroke-dasharray="10.6 4.4"/>
<text><tspan x="254.2" y="514.7" font-size="29.5" font-style="italic" textLength="14.2" lengthAdjust="spacingAndGlyphs">θ</tspan><tspan x="271.8" y="520.2" font-size="23.5" font-style="italic" textLength="13.5" lengthAdjust="spacingAndGlyphs">J</tspan><tspan x="291.0" y="520.2" font-size="23.5" font-style="italic" textLength="23.0" lengthAdjust="spacingAndGlyphs">N</tspan><tspan font-size="1"> </tspan><tspan x="332.9" y="514.9" font-size="31">(</tspan><tspan x="344.0" y="514.7" font-size="28" textLength="61.2" lengthAdjust="spacingAndGlyphs">0.37</tspan><tspan x="407.4" y="514.9" font-size="31">)</tspan></text>
<path d="M173.2 551.3 H231.0" stroke="#2ca02c" stroke-width="2.9" fill="none" stroke-dasharray="10.6 4.4"/>
<text><tspan x="253.4" y="561.6" font-size="29.5" font-style="italic" textLength="20.4" lengthAdjust="spacingAndGlyphs">ψ</tspan><tspan font-size="1"> </tspan><tspan x="290.1" y="561.8" font-size="31">(</tspan><tspan x="301.2" y="561.6" font-size="28" textLength="61.2" lengthAdjust="spacingAndGlyphs">0.20</tspan><tspan x="364.6" y="561.8" font-size="31">)</tspan></text>
<path d="M173.2 593.4 H231.0" stroke="#d62728" stroke-width="2.9" fill="none" stroke-dasharray="10.6 4.4"/>
<text><tspan x="253.4" y="603.7" font-size="29.5" font-style="italic" textLength="19.4" lengthAdjust="spacingAndGlyphs">α</tspan><tspan font-size="1"> </tspan><tspan x="289.1" y="603.9" font-size="31">(</tspan><tspan x="300.2" y="603.7" font-size="28" textLength="60.4" lengthAdjust="spacingAndGlyphs">0.30</tspan><tspan x="362.8" y="603.9" font-size="31">)</tspan></text>
<path d="M173.2 635.0 H231.0" stroke="#9467bd" stroke-width="2.9" fill="none" stroke-dasharray="10.6 4.4"/>
<text><tspan x="254.4" y="645.3" font-size="29.5" font-style="italic" textLength="12.6" lengthAdjust="spacingAndGlyphs">δ</tspan><tspan font-size="1"> </tspan><tspan x="282.3" y="645.5" font-size="31">(</tspan><tspan x="293.4" y="645.3" font-size="28" textLength="61.5" lengthAdjust="spacingAndGlyphs">0.67</tspan><tspan x="357.1" y="645.5" font-size="31">)</tspan></text>
<rect x="148.5" y="11.8" width="952.7" height="953.2" fill="none" stroke="#000" stroke-width="3.6"/>
<path d="M148.5 965.0 v16.6" stroke="#000" stroke-width="3.5"/>
<path d="M148.5 965.0 h-16.6" stroke="#000" stroke-width="3.5"/>
<text x="123.3" y="1024.2" font-size="38.5" textLength="50.5" lengthAdjust="spacingAndGlyphs">0.0</text>
<text x="64.9" y="978.5" font-size="38.5" textLength="50.5" lengthAdjust="spacingAndGlyphs">0.0</text>
<path d="M339.0 965.0 v16.6" stroke="#000" stroke-width="3.5"/>
<path d="M148.5 774.4 h-16.6" stroke="#000" stroke-width="3.5"/>
<text x="313.8" y="1024.2" font-size="38.5" textLength="50.5" lengthAdjust="spacingAndGlyphs">0.2</text>
<text x="64.9" y="787.9" font-size="38.5" textLength="50.5" lengthAdjust="spacingAndGlyphs">0.2</text>
<path d="M529.6 965.0 v16.6" stroke="#000" stroke-width="3.5"/>
<path d="M148.5 583.7 h-16.6" stroke="#000" stroke-width="3.5"/>
<text x="504.4" y="1024.2" font-size="38.5" textLength="50.5" lengthAdjust="spacingAndGlyphs">0.4</text>
<text x="64.9" y="597.2" font-size="38.5" textLength="50.5" lengthAdjust="spacingAndGlyphs">0.4</text>
<path d="M720.1 965.0 v16.6" stroke="#000" stroke-width="3.5"/>
<path d="M148.5 393.1 h-16.6" stroke="#000" stroke-width="3.5"/>
<text x="694.9" y="1024.2" font-size="38.5" textLength="50.5" lengthAdjust="spacingAndGlyphs">0.6</text>
<text x="64.9" y="406.6" font-size="38.5" textLength="50.5" lengthAdjust="spacingAndGlyphs">0.6</text>
<path d="M910.7 965.0 v16.6" stroke="#000" stroke-width="3.5"/>
<path d="M148.5 202.4 h-16.6" stroke="#000" stroke-width="3.5"/>
<text x="885.5" y="1024.2" font-size="38.5" textLength="50.5" lengthAdjust="spacingAndGlyphs">0.8</text>
<text x="64.9" y="215.9" font-size="38.5" textLength="50.5" lengthAdjust="spacingAndGlyphs">0.8</text>
<path d="M1101.2 965.0 v16.6" stroke="#000" stroke-width="3.5"/>
<path d="M148.5 11.8 h-16.6" stroke="#000" stroke-width="3.5"/>
<text x="1076.0" y="1024.2" font-size="38.5" textLength="50.5" lengthAdjust="spacingAndGlyphs">1.0</text>
<text x="64.9" y="25.3" font-size="38.5" textLength="50.5" lengthAdjust="spacingAndGlyphs">1.0</text>
<text x="613.5" y="1084" font-size="50" font-style="italic" textLength="24.4" lengthAdjust="spacingAndGlyphs">p</text>
<g transform="translate(35.8 572.6) rotate(-90)">
<text><tspan x="-4.6" y="0" font-size="52" font-style="italic" textLength="37" lengthAdjust="spacingAndGlyphs">C</tspan><tspan x="35.0" y="0" font-size="52" font-style="italic">D</tspan><tspan x="73.2" y="0" font-size="52" font-style="italic" textLength="36" lengthAdjust="spacingAndGlyphs">F</tspan><tspan x="110.0" y="2" font-size="56">(</tspan><tspan x="128.0" y="0" font-size="50" font-style="italic">p</tspan><tspan x="149.0" y="2" font-size="56">)</tspan></text>
</g>
</svg></body></html>
